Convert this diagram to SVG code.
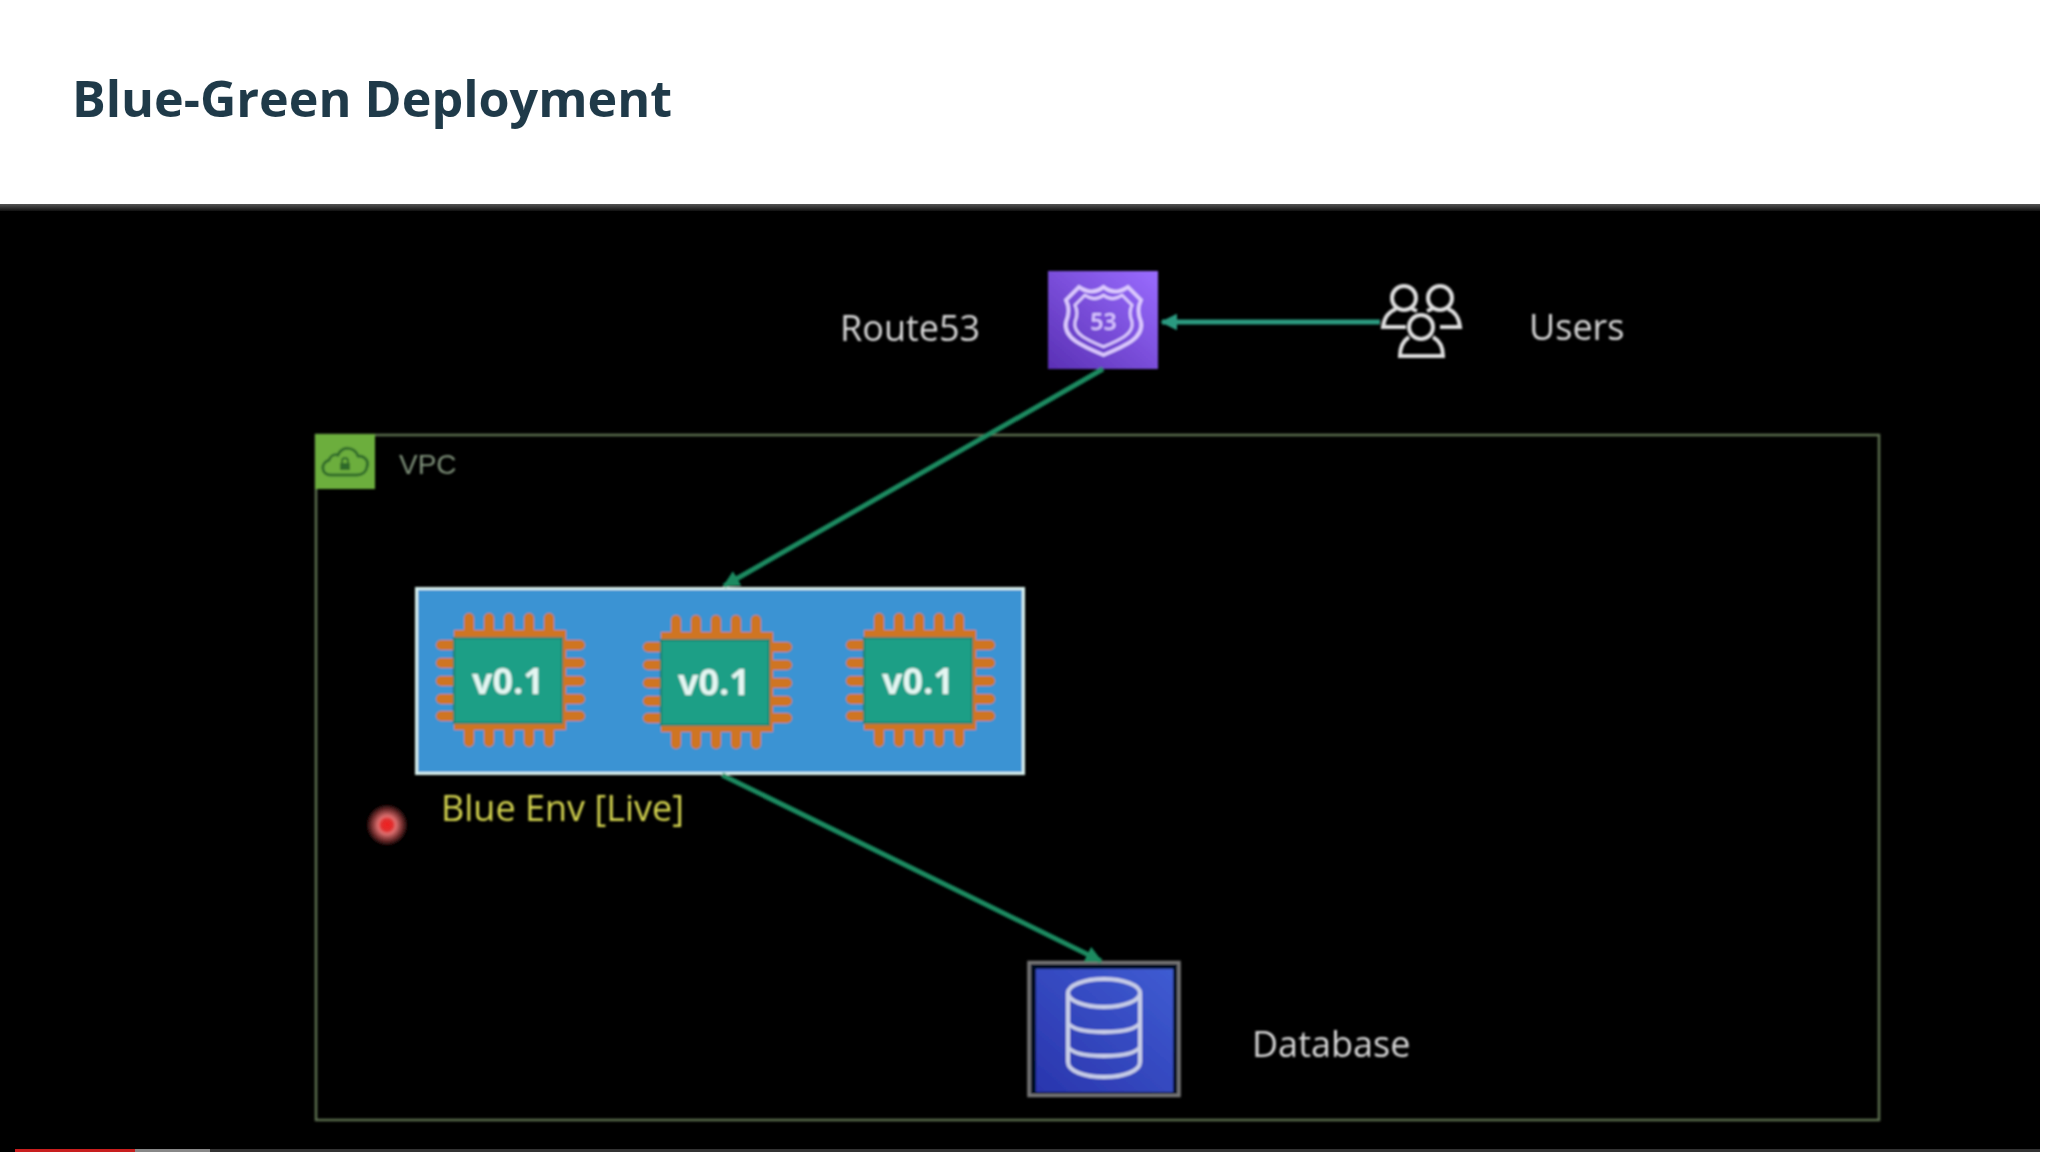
<svg xmlns="http://www.w3.org/2000/svg" xmlns:xlink="http://www.w3.org/1999/xlink" width="2048" height="1152" viewBox="0 0 2048 1152">
<style>
.lbl{font-family:"Open Sans","Noto Sans","Liberation Sans",sans-serif;font-size:36px;fill:#d8d8d8}
.ver{font-family:"Open Sans","Liberation Sans",sans-serif;font-size:36px;font-weight:700;fill:#e4f6f2;text-anchor:middle}
.conn{stroke:#1a8a60;stroke-width:5;fill:none}
.pin{stroke:#cf7424;stroke-width:10;stroke-linecap:round;fill:none}
.ico{fill:none;stroke:#e0e0e0;stroke-width:4}
.shield{fill:none;stroke:#e0cdff;stroke-width:3.5}
</style>
<defs>
<linearGradient id="r53" x1="0" y1="1" x2="1" y2="0"><stop offset="0" stop-color="#5a30b5"/><stop offset="1" stop-color="#9a6cff"/></linearGradient>
<linearGradient id="db" x1="0" y1="1" x2="1" y2="0"><stop offset="0" stop-color="#2a35ad"/><stop offset="1" stop-color="#3f5cd2"/></linearGradient>
<linearGradient id="edge" x1="0" y1="0" x2="0" y2="1"><stop offset="0" stop-color="#555"/><stop offset="1" stop-color="#111"/></linearGradient>
<radialGradient id="dot"><stop offset="0" stop-color="#f02020"/><stop offset="0.28" stop-color="#e03030"/><stop offset="0.42" stop-color="#e07070"/><stop offset="0.75" stop-color="#6a2a2a"/><stop offset="1" stop-color="#000"/></radialGradient>
<filter id="soft" x="-5%" y="-5%" width="110%" height="110%"><feGaussianBlur stdDeviation="1"/></filter>
<marker id="ah" viewBox="0 0 10 10" refX="9" refY="5" markerWidth="3.4" markerHeight="3.4" orient="auto-start-reverse"><path d="M0 0L10 5L0 10z" fill="#1a8a60"/></marker>
<marker id="ah2" viewBox="0 0 10 10" refX="9" refY="5" markerWidth="3.4" markerHeight="3.4" orient="auto-start-reverse"><path d="M0 0L10 5L0 10z" fill="#2a9a80"/></marker>
<g id="chip">
<path class="pin" d="M-39 -62V-46M-19 -62V-46M1 -62V-46M21 -62V-46M41 -62V-46M-39 46V62M-19 46V62M1 46V62M21 46V62M41 46V62M-67 -35H-50M-67 -17H-50M-67 1H-50M-67 19H-50M-67 36H-50M50 -35H72M50 -17H72M50 1H72M50 19H72M50 36H72"/>
<rect x="-54" y="-50" width="112" height="100" fill="#cf7424"/>
<rect x="-54" y="-42" width="108" height="85" fill="#1f9f86" stroke="#1a7f6c" stroke-width="2"/>
</g>
</defs>
<rect width="2048" height="1152" fill="#fff"/>
<text id="title" x="72" y="117" font-family="Open Sans,Noto Sans,Liberation Sans,sans-serif" font-size="50" font-weight="700" fill="#1f3a49" textLength="600" lengthAdjust="spacingAndGlyphs">Blue-Green Deployment</text>
<rect x="0" y="204" width="2040" height="948" fill="#000"/>
<rect x="0" y="204" width="2040" height="7" fill="url(#edge)"/>
<g filter="url(#soft)">
<g id="vpc">
<rect x="316" y="435" width="1563" height="685" fill="none" stroke="#5c6e50" stroke-width="2.5"/>
<rect x="315" y="434" width="60" height="55" fill="#6cae3e"/>
<path d="M331 475C321 475 320 463 329 460C331 455 335 454 338 455C342 446 354 446 358 456C366 456 369 462 367 467C366 472 362 475 357 475Z" fill="none" stroke="#2f6b2a" stroke-width="3"/>
<rect x="340" y="463" width="10" height="7" fill="#2f6b2a"/>
<path d="M342 463v-2a3 3 0 0 1 6 0v2" fill="none" stroke="#2f6b2a" stroke-width="2"/>
<text x="399" y="474" font-family="Liberation Sans,Arial,sans-serif" font-size="28" fill="#7f917a">VPC</text>
</g>
<g id="blue-env">
<rect x="416.5" y="588.5" width="607" height="185" fill="#3a93d3" stroke="#d9f2ef" stroke-width="3"/>
<use xlink:href="#chip" x="508" y="680"/>
<use xlink:href="#chip" x="715" y="682"/>
<use xlink:href="#chip" x="918" y="680"/>
<text class="ver" x="508" y="694">v0.1</text>
<text class="ver" x="714" y="695">v0.1</text>
<text class="ver" x="918" y="694">v0.1</text>
<text class="lbl" x="441" y="821" style="fill:#d4d450">Blue Env [Live]</text>
</g>
<g id="route53">
<rect x="1048" y="271" width="110" height="98" fill="url(#r53)"/>
<path class="shield" d="M1103.5 287Q1115 296 1128 287L1141 300Q1136 310 1141 322C1144 338 1125 346 1103.5 355C1082 346 1063 338 1066 322Q1071 310 1066 300L1079 287Q1092 296 1103.5 287Z"/>
<path class="shield" transform="translate(1103.5 321) scale(.76) translate(-1103.5 -321)" d="M1103.5 287Q1115 296 1128 287L1141 300Q1136 310 1141 322C1144 338 1125 346 1103.5 355C1082 346 1063 338 1066 322Q1071 310 1066 300L1079 287Q1092 296 1103.5 287Z"/>
<text x="1103.5" y="330" text-anchor="middle" font-family="Open Sans,Liberation Sans,sans-serif" font-size="23" font-weight="600" fill="#dcc8ff">53</text>
<text class="lbl" x="840" y="341">Route53</text>
</g>
<g id="users">
<circle class="ico" cx="1404" cy="298" r="12"/>
<circle class="ico" cx="1440" cy="298" r="12"/>
<circle class="ico" cx="1421" cy="327" r="12"/>
<path class="ico" d="M1396 309C1388 312 1384 318 1383 327H1406M1448 309C1456 312 1459 318 1460 327H1440M1412 309L1417 311M1432 309L1427 311"/>
<path class="ico" d="M1409 337C1403 341 1400 348 1400 356H1443C1443 348 1440 341 1433 337"/>
<text class="lbl" x="1529" y="340">Users</text>
</g>
<g id="database">
<rect x="1029" y="962.5" width="150" height="133" fill="#000820" stroke="#777" stroke-width="3.5"/>
<rect x="1036" y="969" width="137" height="123" fill="url(#db)"/>
<g fill="none" stroke="#c9cfe8" stroke-width="4">
<ellipse cx="1104" cy="993" rx="36" ry="14"/>
<path d="M1068 993V1062C1068 1071 1084 1077 1104 1077S1140 1071 1140 1062V993M1068 1023C1072 1029 1086 1032 1104 1032S1136 1029 1140 1023M1068 1047C1072 1053 1086 1056 1104 1056S1136 1053 1140 1047"/>
</g>
<text class="lbl" x="1252" y="1057">Database</text>
</g>
<g id="connectors">
<path class="conn" d="M1103 369L724 586" marker-end="url(#ah)"/>
<path class="conn" style="stroke:#2a9a80" d="M1380 322H1162" marker-end="url(#ah2)"/>
<path class="conn" d="M722 775L1101 961" marker-end="url(#ah)"/>
</g>
<g id="pointer"><circle cx="387" cy="825" r="21" fill="url(#dot)"/></g>
</g>
<rect x="15" y="1149" width="120" height="3" fill="#c81e1e"/>
<rect x="135" y="1149" width="75" height="3" fill="#888"/>
<rect x="210" y="1149" width="1830" height="3" fill="#333"/>
</svg>
